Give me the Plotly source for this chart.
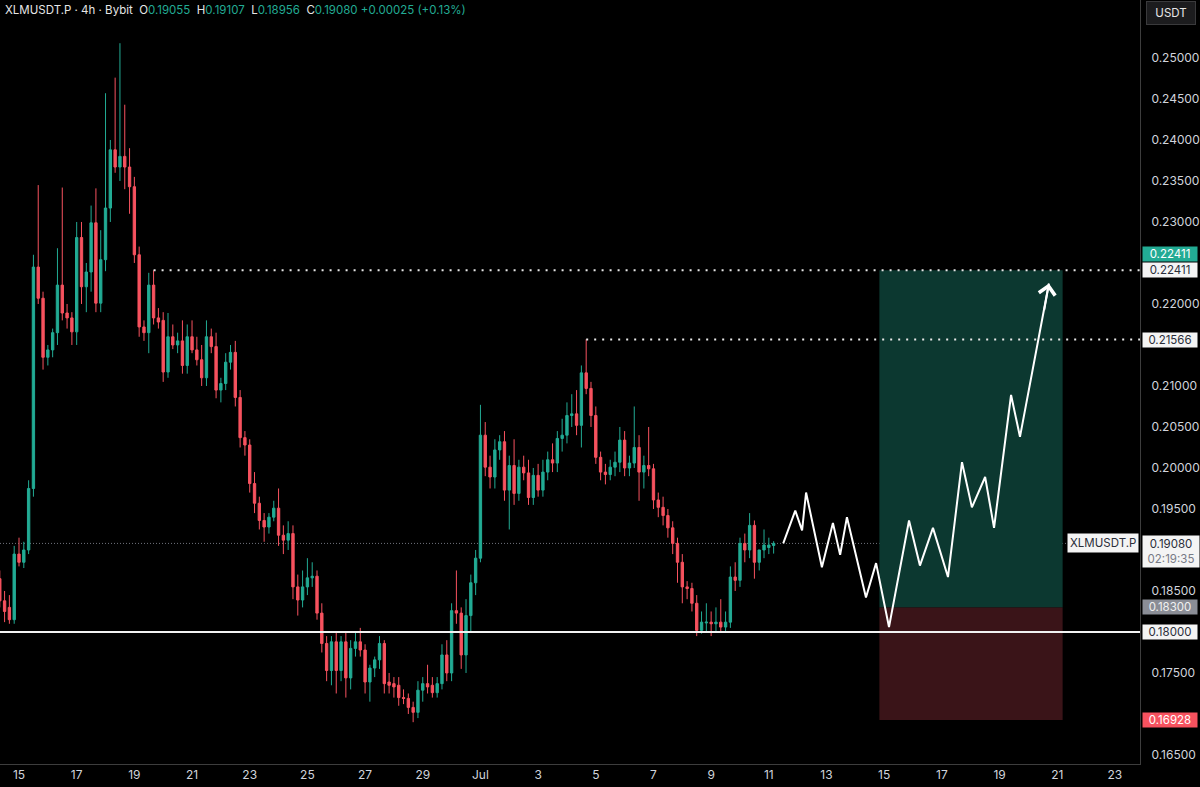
import pandas as pd
import plotly.graph_objects as go

# ---------------- data (4h candles, XLMUSDT.P Bybit) ----------------
first_candle = "2025-06-14 08:00"
opens = [
    .1865, .1838, .1830, .1815,                      # Jun 14
    .1895, .1885, .1900, .1975, .2245, .2207,        # Jun 15
    .2135, .2144, .2165, .2223, .2189, .2183,        # Jun 16
    .2166, .2281, .2221, .2239, .2299, .2201,        # Jun 17
    .2254, .2317, .2388, .2367, .2380, .2367,        # Jun 18
    .2343, .2260, .2172, .2165, .2223, .2183,        # Jun 19
    .2180, .2117, .2160, .2150, .2155, .2125,        # Jun 20
    .2160, .2144, .2132, .2110, .2160, .2148,        # Jun 21
    .2095, .2103, .2129, .2141, .2086, .2037,        # Jun 22
    .2028, .1981, .1957, .1936, .1928, .1940,        # Jun 23
    .1951, .1918, .1912, .1920, .1855, .1839,        # Jun 24
    .1855, .1866, .1868, .1823, .1786, .1753,        # Jun 25
    .1788, .1753, .1788, .1744, .1780, .1788,        # Jun 26
    .1778, .1739, .1756, .1766, .1786, .1739,        # Jun 27
    .1737, .1735, .1720, .1719, .1708, .1702,        # Jun 28
    .1729, .1737, .1735, .1726, .1737, .1772,        # Jun 29
    .1750, .1826, .1823, .1772, .1820, .1860,        # Jun 30
    .1890, .2040, .2001, .1989, .2022, .2032,        # Jul 1
    .1973, .2003, .1969, .2001, .1994, .1964,        # Jul 2
    .1991, .1973, .1995, .2010, .2006, .2036,        # Jul 3
    .2040, .2064, .2066, .2052, .2116, .2097,        # Jul 4
    .2064, .2013, .1995, .1992, .2001, .2007,        # Jul 5
    .2034, .2000, .2006, .2025, .1995, .2003,        # Jul 6
    .1999, .1961, .1952, .1942, .1927, .1908,        # Jul 7
    .1885, .1855, .1853, .1835, .1802, .1811,        # Jul 8
    .1812, .1810, .1812, .1806, .1812, .1867,        # Jul 9
    .1863, .1908, .1900, .1930, .1885, .1900,        # Jul 10
    .1903, .19055,                                   # Jul 11
]
highs = [
    .1875, .1850, .1845, .1905,
    .1915, .1910, .1985, .2260, .2345, .2215,
    .2150, .2170, .2268, .2342, .2200, .2190,
    .2300, .2300, .2250, .2320, .2341, .2290,
    .2457, .2400, .2476, .2518, .2443, .2390,
    .2355, .2270, .2180, .2238, .2241, .2195,
    .2190, .2189, .2175, .2165, .2180, .2175,
    .2180, .2160, .2150, .2180, .2170, .2165,
    .2110, .2140, .2150, .2155, .2095, .2045,
    .2035, .1995, .1965, .1945, .1945, .1960,
    .1975, .1930, .1935, .1930, .1870, .1875,
    .1890, .1885, .1875, .1835, .1795, .1795,
    .1800, .1795, .1800, .1790, .1800, .1805,
    .1785, .1760, .1770, .1795, .1790, .1750,
    .1745, .1745, .1730, .1725, .1715, .1740,
    .1745, .1760, .1745, .1745, .1785, .1790,
    .1835, .1875, .1830, .1840, .1870, .1900,
    .2077, .2056, .2015, .2035, .2040, .2045,
    .2015, .2035, .2010, .2015, .2010, .2000,
    .2005, .2010, .2020, .2030, .2045, .2060,
    .2080, .2090, .2095, .2125, .2157, .2105,
    .2075, .2020, .2005, .2010, .2020, .2050,
    .2045, .2015, .2075, .2040, .2015, .2050,
    .2005, .1970, .1965, .1950, .1935, .1915,
    .1895, .1862, .1860, .1845, .1825, .1835,
    .1825, .1830, .1840, .1825, .1880, .1885,
    .1915, .1920, .1945, .1936, .1900, .1925,
    .1915, .19107,
]
lows = [
    .1830, .1812, .1810, .1810,
    .1880, .1878, .1895, .1965, .2200, .2120,
    .2125, .2135, .2150, .2180, .2170, .2150,
    .2150, .2200, .2190, .2215, .2190, .2190,
    .2240, .2300, .2360, .2350, .2340, .2310,
    .2250, .2160, .2155, .2140, .2175, .2170,
    .2105, .2110, .2145, .2140, .2115, .2115,
    .2140, .2125, .2100, .2100, .2140, .2085,
    .2080, .2095, .2120, .2075, .2025, .2015,
    .1970, .1945, .1925, .1910, .1920, .1935,
    .1905, .1895, .1900, .1840, .1820, .1830,
    .1845, .1855, .1815, .1775, .1740, .1735,
    .1725, .1740, .1720, .1730, .1770, .1770,
    .1725, .1715, .1745, .1755, .1725, .1725,
    .1720, .1710, .1712, .1700, .1690, .1695,
    .1715, .1725, .1720, .1720, .1730, .1740,
    .1740, .1810, .1755, .1750, .1800, .1845,
    .1885, .1990, .1975, .1975, .2010, .1960,
    .1925, .1955, .1960, .1985, .1955, .1955,
    .1965, .1965, .1985, .1995, .1995, .2020,
    .2030, .2050, .2040, .2025, .2090, .2050,
    .2005, .1985, .1980, .1985, .1990, .1995,
    .1990, .1990, .2000, .1960, .1975, .1990,
    .1950, .1940, .1930, .1915, .1895, .1860,
    .1835, .1840, .1825, .1795, .1798, .1800,
    .1795, .1800, .1800, .1800, .1805, .1850,
    .1855, .1885, .1890, .1865, .1875, .1890,
    .1895, .18956,
]
closes = [
    .1838, .1825, .1815, .1895,
    .1885, .1900, .1975, .2245, .2207, .2135,
    .2144, .2165, .2223, .2189, .2183, .2166,
    .2281, .2221, .2239, .2299, .2201, .2254,
    .2317, .2388, .2367, .2380, .2367, .2343,
    .2260, .2172, .2165, .2223, .2183, .2178,
    .2117, .2160, .2150, .2155, .2125, .2160,
    .2144, .2132, .2110, .2160, .2148, .2095,
    .2103, .2129, .2141, .2086, .2037, .2028,
    .1981, .1957, .1936, .1928, .1940, .1951,
    .1918, .1912, .1920, .1855, .1839, .1855,
    .1866, .1868, .1823, .1786, .1753, .1788,
    .1753, .1788, .1744, .1780, .1788, .1778,
    .1739, .1756, .1766, .1786, .1737, .1735,
    .1733, .1720, .1719, .1708, .1702, .1729,
    .1737, .1733, .1726, .1737, .1772, .1750,
    .1826, .1823, .1772, .1820, .1860, .1890,
    .2040, .2001, .1989, .2022, .2032, .1973,
    .2003, .1969, .2001, .1994, .1964, .1991,
    .1973, .1995, .2010, .2006, .2036, .2040,
    .2064, .2066, .2052, .2116, .2097, .2064,
    .2013, .1995, .1992, .2001, .2007, .2034,
    .2000, .2006, .2025, .1995, .2003, .1999,
    .1961, .1952, .1942, .1927, .1908, .1885,
    .1855, .1853, .1835, .1802, .1812, .1812,
    .1810, .1812, .1806, .1812, .1867, .1863,
    .1908, .1900, .1930, .1885, .1900, .1906,
    .1906, .19080,
]

# projected path (hand-drawn zigzag)
proj_times = [
    "2025-07-11 12:00", "2025-07-11 22:00", "2025-07-12 03:40", "2025-07-12 07:00",
    "2025-07-12 20:10", "2025-07-13 05:20", "2025-07-13 11:20", "2025-07-13 17:00",
    "2025-07-14 08:50", "2025-07-14 17:15", "2025-07-15 04:00", "2025-07-15 20:40",
    "2025-07-16 05:45", "2025-07-16 16:35", "2025-07-17 05:05", "2025-07-17 16:45",
    "2025-07-18 01:00", "2025-07-18 12:00", "2025-07-18 19:25", "2025-07-19 09:35",
    "2025-07-19 17:00", "2025-07-20 17:05",
]
proj_prices = [
    .1908, .1948, .1924, .1970, .1879, .1933, .1894, .1940, .1842, .1884, .1806,
    .1936, .1881, .1927, .1867, .2007, .1952, .1989, .1927, .2089, .2038, .2225,
]

# levels
take_profit = 0.22411
prior_high = 0.21566
last_price = 0.19080
entry = 0.18300
support = 0.18000
stop_loss = 0.16928
tp_line_start = "2025-06-19 16:00"
ph_line_start = "2025-07-04 16:00"
pos_start = "2025-07-14 20:00"
pos_end = "2025-07-21 04:30"

x_tick_vals = ["2025-06-15", "2025-06-17", "2025-06-19", "2025-06-21", "2025-06-23",
               "2025-06-25", "2025-06-27", "2025-06-29", "2025-07-01", "2025-07-03",
               "2025-07-05", "2025-07-07", "2025-07-09", "2025-07-11", "2025-07-13",
               "2025-07-15", "2025-07-17", "2025-07-19", "2025-07-21", "2025-07-23"]
x_tick_text = ["15", "17", "19", "21", "23", "25", "27", "29", "Jul", "3",
               "5", "7", "9", "11", "13", "15", "17", "19", "21", "23"]
# price-scale labels not hidden behind the level tags
y_tick_vals = [0.165, 0.175, 0.185, 0.195, 0.200, 0.205, 0.210, 0.220,
               0.230, 0.235, 0.240, 0.245, 0.250]

# ---------------- figure ----------------
GREEN = "#22ab94"
RED = "#f7525f"
TXT = "#d1d4dc"
FONT = "Inter, Roboto, sans-serif"
X_RANGE = ["2025-06-14 08:11", "2025-07-23 20:53"]
Y_RANGE = [0.16390, 0.25707]

times = pd.date_range(first_candle, periods=len(opens), freq="4h")

fig = go.Figure()

# position boxes
fig.add_shape(type="rect", xref="x", yref="y", x0=pos_start, x1=pos_end,
              y0=entry, y1=take_profit, fillcolor="#0c3830", line_width=0, layer="below")
fig.add_shape(type="rect", xref="x", yref="y", x0=pos_start, x1=pos_end,
              y0=stop_loss, y1=entry, fillcolor="#3a1418", line_width=0, layer="below")

# last price dotted line
fig.add_shape(type="line", xref="paper", yref="y", x0=0, x1=1, y0=last_price, y1=last_price,
              line=dict(color="#6f737d", width=1, dash="1px,2px"), layer="below")
# dotted levels
fig.add_shape(type="line", xref="x", yref="y", x0=tp_line_start, x1=X_RANGE[1],
              y0=take_profit, y1=take_profit, line=dict(color="#e8e8e8", width=2, dash="2px,6px"))
fig.add_shape(type="line", xref="x", yref="y", x0=ph_line_start, x1=X_RANGE[1],
              y0=prior_high, y1=prior_high, line=dict(color="#e8e8e8", width=2, dash="2px,6px"))
# support line
fig.add_shape(type="line", xref="paper", yref="y", x0=0, x1=1, y0=support, y1=support,
              line=dict(color="#f2f2f2", width=2))

fig.add_trace(go.Candlestick(
    x=times, open=opens, high=highs, low=lows, close=closes,
    increasing=dict(line=dict(color=GREEN, width=1), fillcolor=GREEN),
    decreasing=dict(line=dict(color=RED, width=1), fillcolor=RED),
    whiskerwidth=0, showlegend=False, hoverinfo="skip",
))

fig.add_trace(go.Scatter(x=proj_times, y=proj_prices, mode="lines",
                         line=dict(color="#ffffff", width=2), showlegend=False,
                         hoverinfo="skip"))

annotations = []
# arrow head at the end of the projection
annotations.append(dict(x=proj_times[-1], y=proj_prices[-1], xref="x", yref="y",
                        showarrow=True, arrowhead=4, arrowsize=1.6, arrowwidth=2,
                        arrowcolor="#ffffff", ax=-5, ay=28, text=""))

# title line
title_html = ("XLMUSDT.P · 4h · Bybit  "
              "O<span style='color:%s'>0.19055</span>  "
              "H<span style='color:%s'>0.19107</span>  "
              "L<span style='color:%s'>0.18956</span>  "
              "C<span style='color:%s'>0.19080 +0.00025 (+0.13%%)</span>") % (GREEN, GREEN, GREEN, GREEN)
annotations.append(dict(x=0, y=1, xref="paper", yref="paper", xanchor="left", yanchor="top",
                        xshift=3, yshift=-1, showarrow=False, text=title_html,
                        font=dict(family=FONT, size=11.5, color="#e6e6e6")))


def price_label(y, text, bg, fg, yshift=0):
    return dict(x=1, y=y, xref="paper", yref="y", xanchor="left", yanchor="middle",
                xshift=2, yshift=yshift, showarrow=False, text=text, bgcolor=bg,
                font=dict(family=FONT, size=11.5, color=fg), width=54, height=14,
                align="center", borderpad=0)


annotations.append(price_label(take_profit, "%.5f" % take_profit, GREEN, "#ffffff", yshift=16))
annotations.append(price_label(take_profit, "%.5f" % take_profit, "#f4f4f4", "#2a2e39"))
annotations.append(price_label(prior_high, "%.5f" % prior_high, "#f4f4f4", "#2a2e39"))
annotations.append(dict(x=1, y=last_price, xref="paper", yref="y", xanchor="left", yanchor="top",
                        xshift=2, yshift=8, showarrow=False,
                        text="0.19080<br><span style='color:#787b86'>02:19:35</span>",
                        bgcolor="#f4f4f4", font=dict(family=FONT, size=11.5, color="#2a2e39"),
                        width=54, align="center", borderpad=1))
annotations.append(dict(x=1, y=last_price, xref="paper", yref="y", xanchor="right",
                        yanchor="middle", xshift=-1, showarrow=False, text="XLMUSDT.P",
                        bgcolor="#f4f4f4", font=dict(family=FONT, size=11.5, color="#2a2e39"),
                        borderpad=2))
annotations.append(price_label(entry, "%.5f" % entry, "#8a8d96", "#f0f0f0"))
annotations.append(price_label(support, "%.5f" % support, "#f4f4f4", "#2a2e39"))
annotations.append(price_label(stop_loss, "%.5f" % stop_loss, RED, "#ffffff"))
annotations.append(dict(x=1, y=1, xref="paper", yref="paper", xanchor="left", yanchor="top",
                        xshift=6, yshift=-1, showarrow=False, text="USDT",
                        bgcolor="#1c1c1e", bordercolor="#3a3a3c", borderwidth=1, borderpad=4,
                        font=dict(family=FONT, size=11.5, color="#e6e6e6"), width=40))

fig.update_layout(
    width=1200, height=787,
    margin=dict(l=0, r=60, t=0, b=23),
    paper_bgcolor="#000000", plot_bgcolor="#000000",
    showlegend=False,
    annotations=annotations,
    xaxis=dict(range=X_RANGE, type="date", rangeslider=dict(visible=False),
               showgrid=False, zeroline=False, showline=True, linecolor="#3d3d3d",
               linewidth=1, tickvals=x_tick_vals, ticktext=x_tick_text, ticks="",
               tickfont=dict(family=FONT, size=12, color=TXT)),
    yaxis=dict(range=Y_RANGE, side="right", showgrid=False, zeroline=False,
               showline=True, linecolor="#3d3d3d", linewidth=1,
               tickvals=y_tick_vals, tickformat=".5f", ticks="",
               ticklabelstandoff=8,
               tickfont=dict(family=FONT, size=12, color=TXT)),
)

fig.write_html("out.html")
